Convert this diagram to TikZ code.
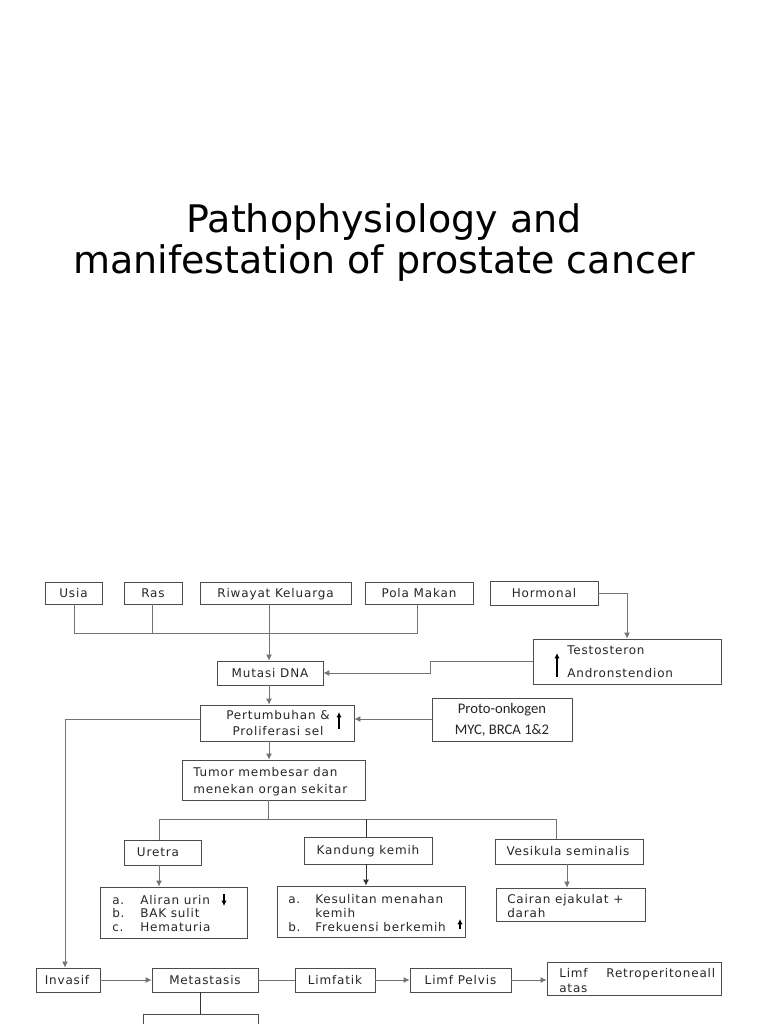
\documentclass[tikz,border=0pt]{standalone}
\usepackage{fontspec}
\setmainfont{DejaVu Sans}
\newfontfamily\boxfont[LetterSpace=7]{DejaVu Sans}
\newfontfamily\calfont{Carlito}
\usetikzlibrary{arrows.meta,fit}
\tikzset{
  box/.style={draw=black!70,line width=0.6pt,inner sep=0pt,fill=white},
  txt/.style={inner sep=0pt,font=\boxfont\fontsize{9}{11}\selectfont,text=black!85,text height=7.6pt,text depth=1.4pt},
  ltxt/.style={txt,anchor=west},
  conn/.style={draw=black!55,line width=0.7pt},
  arr/.style={conn,-{Latex[length=4.5pt,width=4.5pt]}},
  sym/.style={draw=black,line width=0.8pt,-{Latex[length=4pt,width=4pt]}}
}
\begin{document}
\begin{tikzpicture}[x=0.75pt,y=-0.75pt]
\useasboundingbox (0,0) rectangle (768,1024);
\clip (0,0) rectangle (768,1024);
\fill[white] (0,0) rectangle (768,1024);
% title
\node[inner sep=0pt,anchor=base,font=\fontsize{28.5}{34}\selectfont] (t1) at (384,232) {Pathophysiology and};
\node[inner sep=0pt,anchor=base,font=\fontsize{28.5}{34}\selectfont] (t2) at (384,273) {manifestation of prostate cancer};
% top row
\node[box,fit={(45,582)(102,604)}] (usia) {};
\node[txt] (usiat) at (usia) {Usia};
\node[box,fit={(124,582)(182,604)}] (ras) {};
\node[txt] (rast) at (ras) {Ras};
\node[box,fit={(200,582)(351,604)}] (riw) {};
\node[txt] (riwt) at (riw) {Riwayat Keluarga};
\node[box,fit={(365,582)(473,604)}] (pola) {};
\node[txt] (polat) at (pola) {Pola Makan};
\node[box,fit={(490,581)(598,605)}] (horm) {};
\node[txt] (hormt) at (horm) {Hormonal};
% testosteron
\node[box,fit={(533,639)(721,684)}] (testo) {};
\node[ltxt] (testo1) at (567,650) {Testosteron};
\node[ltxt] (testo2) at (567,673) {Andronstendion};
\coordinate (tua) at (557,677);
\coordinate (tub) at (557,653);
\draw[sym] (tua) -- (tub);
% mutasi
\node[box,fit={(217,661)(323,685)}] (mut) {};
\node[txt] (mutt) at (mut) {Mutasi DNA};
% pertumbuhan
\node[box,fit={(200,705)(354,741)}] (pert) {};
\node[txt] (pert1) at (278,715) {Pertumbuhan \&};
\node[txt] (pert2) at (278,731) {Proliferasi sel};
\coordinate (pua) at (339,729);
\coordinate (pub) at (339,712);
\draw[sym] (pua) -- (pub);
% proto
\node[box,fit={(432,698)(572,741)}] (proto) {};
\node[txt,font=\calfont\fontsize{11}{13}\selectfont] (proto1) at (502,709) {Proto-onkogen};
\node[txt,font=\calfont\fontsize{11}{13}\selectfont] (proto2) at (502,730) {MYC, BRCA 1\&2};
% tumor
\node[box,fit={(182,760)(365,800)}] (tum) {};
\node[ltxt] (tum1) at (193,772) {Tumor membesar dan};
\node[ltxt] (tum2) at (193,789) {menekan organ sekitar};
% organs
\node[box,fit={(124,840)(201,865)}] (ure) {};
\node[txt] (uret) at (158,852) {Uretra};
\node[box,fit={(304,837)(432,864)}] (kand) {};
\node[txt] (kandt) at (368,850) {Kandung kemih};
\node[box,fit={(495,839)(643,864)}] (vesi) {};
\node[txt] (vesit) at (568,851) {Vesikula seminalis};
% lists
\node[box,fit={(100,887)(247,938)}] (ulist) {};
\node[ltxt] (ua) at (112,900) {a.};
\node[ltxt] (ua2) at (140,900) {Aliran urin};
\node[ltxt] (ub) at (112,913) {b.};
\node[ltxt] (ub2) at (140,913) {BAK sulit};
\node[ltxt] (uc) at (112,927) {c.};
\node[ltxt] (uc2) at (140,927) {Hematuria};
\coordinate (uda) at (224,894);
\coordinate (udb) at (224,906);
\draw[sym] (uda) -- (udb);
\node[box,fit={(277,886)(465,937)}] (klist) {};
\node[ltxt] (ka) at (288,899) {a.};
\node[ltxt] (ka2) at (315,899) {Kesulitan menahan};
\node[ltxt] (ka3) at (315,913) {kemih};
\node[ltxt] (kb) at (288,927) {b.};
\node[ltxt] (kb2) at (315,927) {Frekuensi berkemih};
\coordinate (kua) at (460,929);
\coordinate (kub) at (460,919);
\draw[sym] (kua) -- (kub);
\node[box,fit={(496,888)(645,921)}] (vlist) {};
\node[ltxt] (v1) at (507,899) {Cairan ejakulat +};
\node[ltxt] (v2) at (507,913) {darah};
% bottom row
\node[box,fit={(36,968)(100,992)}] (inv) {};
\node[txt] (invt) at (67,980) {Invasif};
\node[box,fit={(152,968)(258,992)}] (meta) {};
\node[txt] (metat) at (meta) {Metastasis};
\node[box,fit={(295,968)(375,992)}] (limf) {};
\node[txt] (limft) at (limf) {Limfatik};
\node[box,fit={(410,968)(511,992)}] (pelv) {};
\node[txt] (pelvt) at (pelv) {Limf Pelvis};
\node[box,fit={(547,962)(721,995)}] (retro) {};
\node[ltxt] (retro1) at (559,973) {Limf\hspace{14pt}Retroperitoneall};
\node[ltxt] (retro2) at (559,988) {atas};
\node[box,fit={(143,1014)(258,1046)}] (hema) {};
\node[txt] (hemat) at (200,1029) {Hematogen};
% connectors top
\coordinate (j1) at (74,633);
\coordinate (j2) at (152,633);
\coordinate (j3) at (269,633);
\coordinate (j4) at (417,633);
\draw[conn] (usia.south -| j1) -- (j1) -- (j4) -- (pola.south -| j4);
\draw[conn] (ras.south -| j2) -- (j2);
\draw[arr] (riw.south -| j3) -- (mut.north -| j3);
\draw[arr] (horm.east) -| (testo.north);
\coordinate (tb1) at (430,661.5);
\coordinate (tb2) at (430,673);
\draw[arr] (testo.west) -- (tb1) -- (tb2) -- (mut.east |- tb2);
\draw[arr] (mut.south -| j3) -- (pert.north -| j3);
\draw[arr] (proto.west |- 0,719) -- (pert.east |- 0,719);
\coordinate (ib) at (65,719);
\draw[arr] (pert.west |- ib) -- (ib) -- (inv.north -| ib);
\draw[arr] (pert.south -| j3) -- (tum.north -| j3);
% branch
\coordinate (b0) at (268,819);
\coordinate (b1) at (159,819);
\coordinate (b2) at (366,819);
\coordinate (b3) at (556,819);
\draw[conn] (tum.south -| b0) -- (b0);
\draw[conn] (b1) -- (b3);
\draw[conn] (b1) -- (ure.north -| b1);
\draw[conn,draw=black!80] (b2) -- (kand.north -| b2);
\draw[conn] (b3) -- (vesi.north -| b3);
\draw[arr] (ure.south -| b1) -- (ulist.north -| b1);
\draw[arr,draw=black!80] (kand.south -| b2) -- (klist.north -| b2);
\coordinate (vx) at (567,870);
\draw[arr] (vesi.south -| vx) -- (vlist.north -| vx);
% bottom connectors
\draw[arr] (inv.east) -- (meta.west);
\draw[conn] (meta.east) -- (limf.west);
\draw[arr] (limf.east) -- (pelv.west);
\draw[arr] (pelv.east) -- (pelv.east -| retro.west);
\coordinate (hx) at (200,1000);
\draw[conn,draw=black!80] (meta.south -| hx) -- (hema.north -| hx);
\end{tikzpicture}
\end{document}
